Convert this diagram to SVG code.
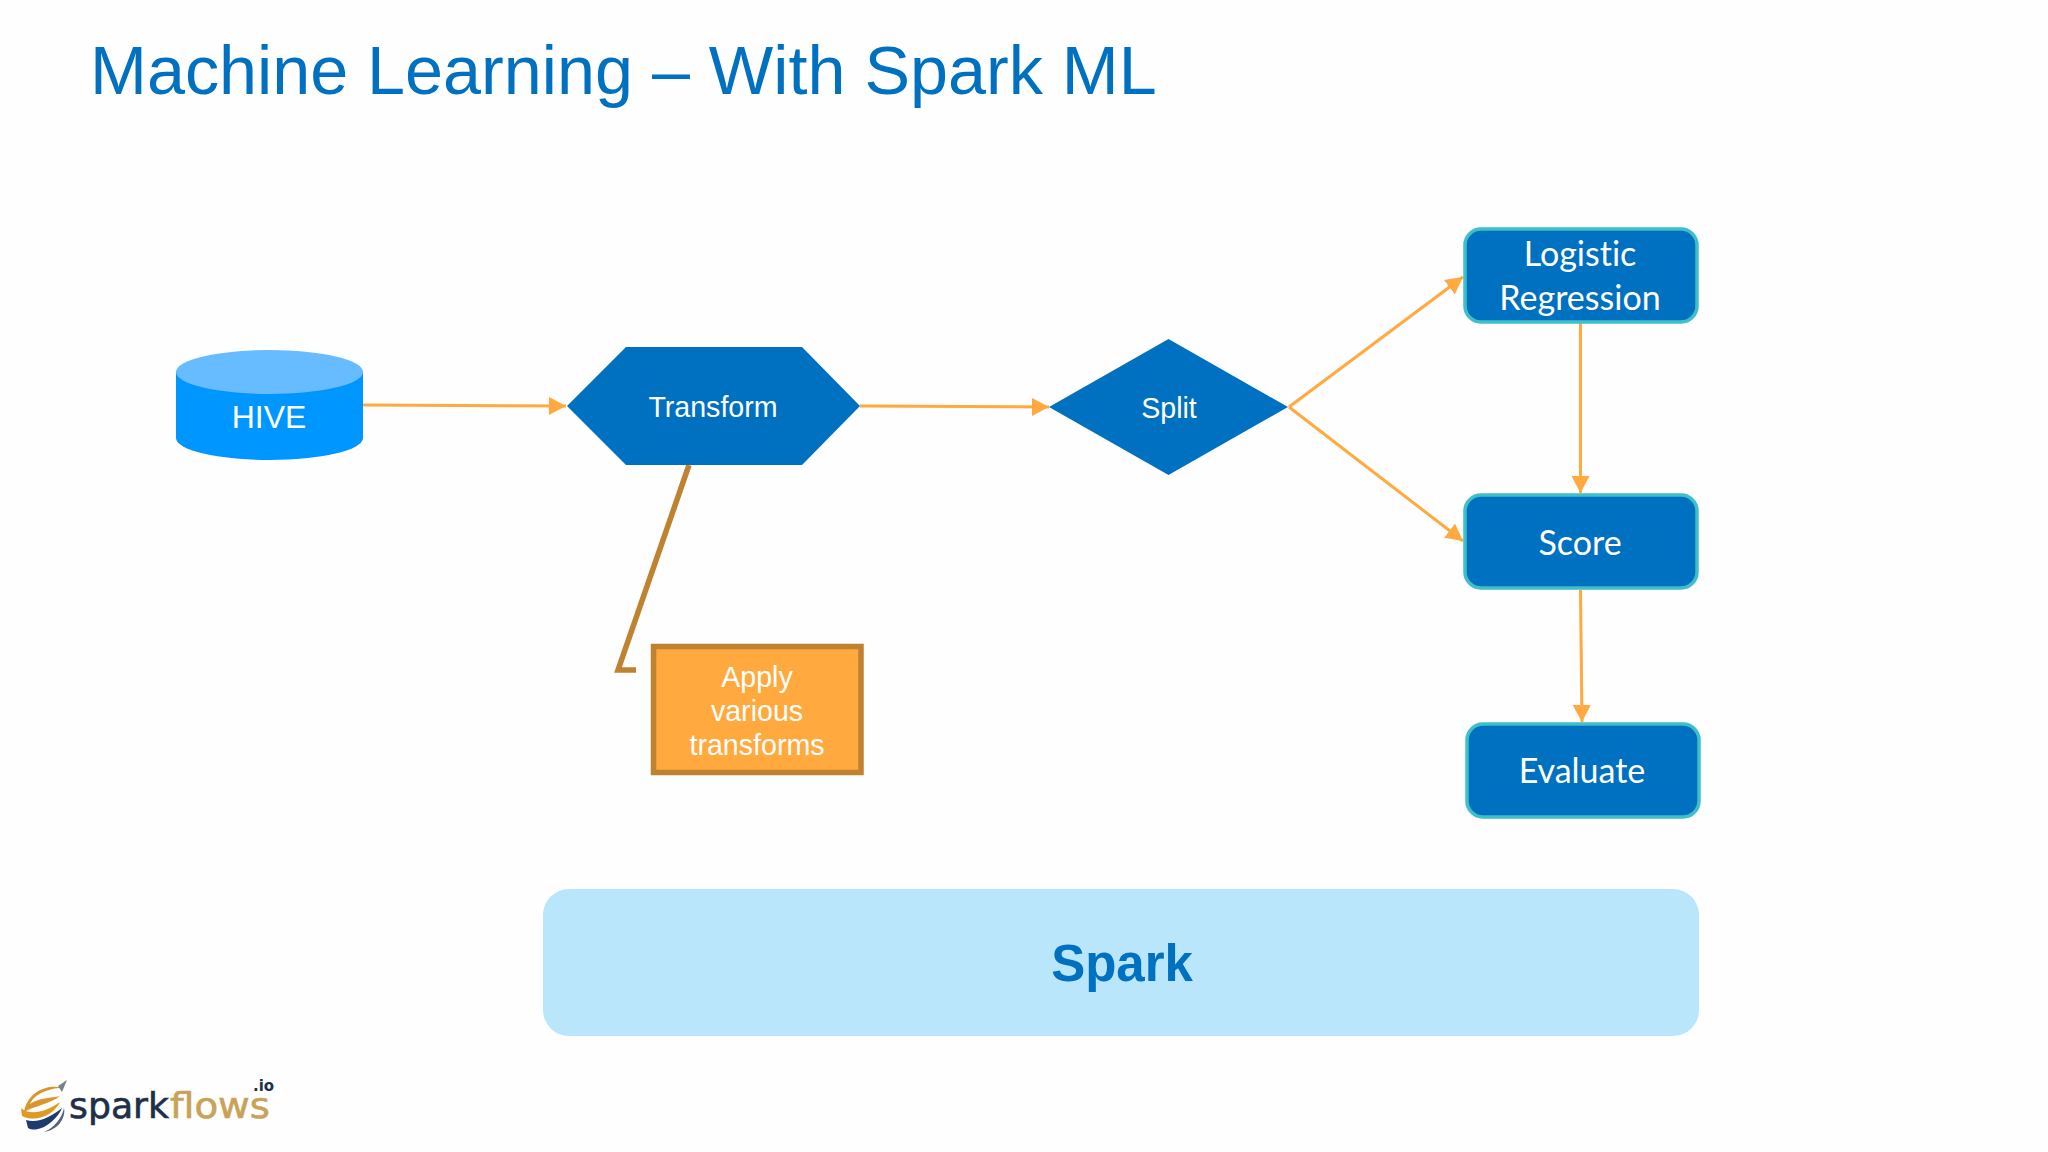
<svg xmlns="http://www.w3.org/2000/svg" width="2048" height="1152" viewBox="0 0 2048 1152">
<style>
.a{font-family:"Liberation Sans",Arial,sans-serif;fill:#fff;text-anchor:middle}
.c{font-family:Lato,"Liberation Sans",sans-serif;fill:#fff;text-anchor:middle;font-size:34px;font-variant-ligatures:none}
.box{fill:#0070c0;stroke:#3fbfc8;stroke-width:3.500}
.flow{fill:none;stroke:#ffa93e;stroke-width:3;marker-end:url(#ah)}
</style>
<defs><marker id="ah" markerUnits="userSpaceOnUse" markerWidth="18" markerHeight="18" refX="17" refY="9" orient="auto"><path d="M0 0L17 9L0 18z" fill="#ffa93e"/></marker></defs>
<rect width="2048" height="1152" fill="#fefefe"/>
<text id="title" x="90" y="94" font-family="Liberation Sans,Arial,sans-serif" font-size="68.300" fill="#0070c0">Machine Learning – With Spark ML</text>
<g id="spark"><rect x="543" y="889" width="1156" height="147" rx="26" fill="#b9e6fb"/><text x="1122" y="981" font-family="Liberation Sans,Arial,sans-serif" font-weight="bold" font-size="51" fill="#0070c0" text-anchor="middle">Spark</text></g>
<g id="connectors">
<path class="flow" d="M363 405L566 406"/>
<path class="flow" d="M860 406L1049 407"/>
<path class="flow" d="M1289 407L1463 277"/>
<path class="flow" d="M1289 407L1463 541"/>
<path class="flow" d="M1580.500 323V493"/>
<path class="flow" d="M1580.500 590L1582 722"/>
<path d="M689 465L618 670H636" fill="none" stroke="#bf8230" stroke-width="5.500"/>
</g>
<g id="hive"><path d="M176 372V438A93.500 22 0 0 0 363 438V372z" fill="#0096ff"/><ellipse cx="269.500" cy="372" rx="93.500" ry="22" fill="#66bcff"/><text class="a" x="269" y="428" font-size="32">HIVE</text></g>
<g id="transform"><path d="M567 406L626 347H802L860 406L802 465H626z" fill="#0070c0"/><text class="a" x="713" y="417" font-size="28.600">Transform</text></g>
<g id="split"><path d="M1049 407L1168.500 339L1288 407L1168.500 475z" fill="#0070c0"/><text class="a" x="1169" y="418" font-size="28.600">Split</text></g>
<g id="apply"><rect x="653.500" y="646.500" width="207.500" height="126" fill="#ffa93e" stroke="#bf8230" stroke-width="5.500"/><text class="a" font-size="28.600"><tspan x="757" y="687">Apply</tspan><tspan x="757" y="721">various</tspan><tspan x="757" y="755">transforms</tspan></text></g>
<g id="logistic"><rect class="box" x="1465" y="229" width="232" height="93" rx="16"/><text class="c"><tspan x="1580" y="266">Logistic</tspan><tspan x="1580" y="310">Regression</tspan></text></g>
<g id="score"><rect class="box" x="1465" y="495" width="232" height="93" rx="16"/><text class="c" x="1580" y="555">Score</text></g>
<g id="evaluate"><rect class="box" x="1467" y="724" width="232" height="93" rx="16"/><text class="c" x="1582" y="783">Evaluate</text></g>
<g id="logo">
<path d="M24 1112C28 1090 50 1084 62 1088C50 1088 34 1094 30 1104C38 1098 52 1098 60 1096C50 1104 34 1106 24 1112z" fill="#d8962c"/>
<path d="M21 1108C30 1116 46 1112 60 1102C56 1112 38 1124 22 1116z" fill="#e09a22"/>
<path d="M26 1120C38 1124 52 1116 62 1108C56 1122 38 1134 28 1128z" fill="#1f3a6e"/>
<path d="M44 1132C54 1128 62 1118 64 1108C66 1118 58 1130 44 1132z" fill="#55617a"/>
<path d="M58 1086L67 1080L62 1092z" fill="#7a8088"/>
<text x="69" y="1118" font-family="DejaVu Sans,sans-serif" font-size="35" textLength="100" lengthAdjust="spacingAndGlyphs" fill="#1f2f4a" stroke="#1f2f4a" stroke-width=".6">spark</text>
<text x="170" y="1118" font-family="DejaVu Sans,sans-serif" font-size="35" textLength="100" lengthAdjust="spacingAndGlyphs" fill="#c9a25a" stroke="#c9a25a" stroke-width=".6">flows</text>
<text x="253" y="1091" font-family="DejaVu Sans,sans-serif" font-weight="bold" font-size="15" fill="#1f2f4a">.io</text>
</g>
</svg>
